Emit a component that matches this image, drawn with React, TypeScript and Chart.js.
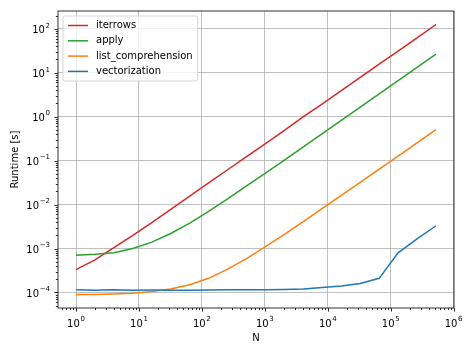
import React, { useEffect, useRef } from "react";
import { Chart, registerables } from "chart.js";

Chart.register(...registerables);

// ---- data ----
const N = [1, 2, 4, 8, 16, 32, 64, 128, 256, 512, 1024, 2048, 4096, 8192, 16384, 32768, 65536, 131072, 262144, 524288];
const iterrows = [3.3e-4, 5.5e-4, 1.05e-3, 2.0e-3, 3.9e-3, 7.8e-3, 1.55e-2, 3.1e-2, 6.2e-2, 0.124, 0.245, 0.49, 1.0, 1.95, 3.9, 7.8, 15.6, 31, 62, 125];
const apply = [7.0e-4, 7.4e-4, 8.0e-4, 1.0e-3, 1.4e-3, 2.2e-3, 3.8e-3, 7.0e-3, 1.35e-2, 2.65e-2, 5.2e-2, 0.103, 0.205, 0.41, 0.82, 1.64, 3.3, 6.6, 13.2, 26.5];
const listComprehension = [9.0e-5, 9.0e-5, 9.2e-5, 9.6e-5, 1.05e-4, 1.2e-4, 1.5e-4, 2.1e-4, 3.4e-4, 5.9e-4, 1.1e-3, 2.1e-3, 4.1e-3, 8.2e-3, 1.62e-2, 3.2e-2, 6.4e-2, 0.127, 0.254, 0.51];
const vectorization = [1.15e-4, 1.13e-4, 1.15e-4, 1.13e-4, 1.14e-4, 1.13e-4, 1.13e-4, 1.14e-4, 1.16e-4, 1.15e-4, 1.15e-4, 1.17e-4, 1.2e-4, 1.3e-4, 1.4e-4, 1.6e-4, 2.1e-4, 8.0e-4, 1.65e-3, 3.3e-3];

const seriesLabels = ["iterrows", "apply", "list_comprehension", "vectorization"];
const seriesColors = ["#d62728", "#2ca02c", "#ff7f0e", "#1f77b4"];
const xMajorTicks = [1, 10, 100, 1000, 10000, 100000, 1000000];
const yMajorTicks = [1e-4, 1e-3, 1e-2, 1e-1, 1, 10, 100];
const xTitle = "N";
const yTitle = "Runtime [s]";

const FONT = "DejaVu Sans";
const FS = 10;
const SUPFS = 7;

function logLimits(values: number[]): [number, number] {
  const lo = Math.log10(Math.min(...values));
  const hi = Math.log10(Math.max(...values));
  const pad = (hi - lo) * 0.05;
  return [Math.pow(10, lo - pad), Math.pow(10, hi + pad)];
}

function minorValues(min: number, max: number): number[] {
  const out: number[] = [];
  for (let e = Math.floor(Math.log10(min)); e <= Math.ceil(Math.log10(max)); e++) {
    for (let m = 2; m <= 9; m++) {
      const v = m * Math.pow(10, e);
      if (v >= min && v <= max) out.push(v);
    }
  }
  return out;
}

function drawPow(ctx: CanvasRenderingContext2D, v: number, x: number, y: number, align: "center" | "right") {
  const e = Math.round(Math.log10(v));
  const expStr = e < 0 ? "\u2212" + String(-e) : String(e);
  const baseFont = `${FS}px "${FONT}"`;
  const supFont = `${SUPFS}px "${FONT}"`;
  ctx.font = baseFont;
  const bw = ctx.measureText("10").width;
  ctx.font = supFont;
  const ew = ctx.measureText(expStr).width;
  const gap = 0.6;
  const total = bw + gap + ew;
  const x0 = align === "center" ? x - total / 2 : x - total;
  ctx.textAlign = "left";
  ctx.textBaseline = "alphabetic";
  ctx.fillStyle = "#000";
  ctx.font = baseFont;
  ctx.fillText("10", x0, y);
  ctx.font = supFont;
  ctx.fillText(expStr, x0 + bw + gap, y - 5.5);
}

const decorPlugin = {
  id: "decor",
  afterDraw(chart: any) {
    const ctx = chart.ctx as CanvasRenderingContext2D;
    const a = chart.chartArea;
    const xs = chart.scales.x;
    const ys = chart.scales.y;
    ctx.save();
    ctx.strokeStyle = "#000";
    ctx.lineWidth = 0.8;
    const xt = (v: number, len: number) => {
      const p = Math.round(xs.getPixelForValue(v)) + 0.5;
      if (p < a.left - 0.5 || p > a.right + 0.5) return;
      ctx.beginPath();
      ctx.moveTo(p, a.bottom);
      ctx.lineTo(p, a.bottom + len);
      ctx.stroke();
    };
    const yt = (v: number, len: number) => {
      const p = Math.round(ys.getPixelForValue(v)) + 0.5;
      if (p < a.top - 0.5 || p > a.bottom + 0.5) return;
      ctx.beginPath();
      ctx.moveTo(a.left, p);
      ctx.lineTo(a.left - len, p);
      ctx.stroke();
    };
    minorValues(xs.min, xs.max).forEach((v) => xt(v, 2.1));
    xMajorTicks.forEach((v) => xt(v, 3.6));
    minorValues(ys.min, ys.max).forEach((v) => yt(v, 2.1));
    yMajorTicks.forEach((v) => yt(v, 3.6));
    // frame (spines)
    ctx.strokeRect(a.left, a.top, a.right - a.left, a.bottom - a.top);

    // tick labels
    xMajorTicks.forEach((v) => drawPow(ctx, v, xs.getPixelForValue(v), a.bottom + 18.5, "center"));
    yMajorTicks.forEach((v) => drawPow(ctx, v, a.left - 8, ys.getPixelForValue(v) + 4.3, "right"));

    // legend
    ctx.font = `${FS}px "${FONT}"`;
    const ds = chart.data.datasets;
    let maxW = 0;
    ds.forEach((d: any) => { maxW = Math.max(maxW, ctx.measureText(d.label).width); });
    const bx = a.left + 5;
    const by = a.top + 5;
    const pad = 4;
    const handle = 20;
    const gap = 8;
    const rowH = 15.3;
    const bw = pad + 1 + handle + gap + maxW + pad + 1;
    const bh = 65;
    const r = 2;
    ctx.beginPath();
    ctx.moveTo(bx + r, by);
    ctx.lineTo(bx + bw - r, by);
    ctx.arcTo(bx + bw, by, bx + bw, by + r, r);
    ctx.lineTo(bx + bw, by + bh - r);
    ctx.arcTo(bx + bw, by + bh, bx + bw - r, by + bh, r);
    ctx.lineTo(bx + r, by + bh);
    ctx.arcTo(bx, by + bh, bx, by + bh - r, r);
    ctx.lineTo(bx, by + r);
    ctx.arcTo(bx, by, bx + r, by, r);
    ctx.closePath();
    ctx.fillStyle = "rgba(255,255,255,0.8)";
    ctx.fill();
    ctx.strokeStyle = "#cccccc";
    ctx.lineWidth = 0.8;
    ctx.stroke();
    ds.forEach((d: any, i: number) => {
      const cy = by + 9.5 + i * rowH;
      ctx.strokeStyle = d.borderColor;
      ctx.lineWidth = 1.5;
      ctx.beginPath();
      ctx.moveTo(bx + pad + 1, cy);
      ctx.lineTo(bx + pad + 1 + handle, cy);
      ctx.stroke();
      ctx.fillStyle = "#000";
      ctx.textBaseline = "middle";
      ctx.textAlign = "left";
      ctx.fillText(d.label, bx + pad + 1 + handle + gap, cy);
    });
    ctx.restore();
  },
};

export default function App() {
  const ref = useRef<HTMLCanvasElement | null>(null);
  useEffect(() => {
    if (!ref.current) return;
    const all = [...iterrows, ...apply, ...listComprehension, ...vectorization];
    const [xMin, xMax] = logLimits(N);
    const [yMin, yMax] = logLimits(all);
    const seriesValues = [iterrows, apply, listComprehension, vectorization];
    const datasets = seriesValues.map((vals, i) => ({
      label: seriesLabels[i],
      data: N.map((n, j) => ({ x: n, y: vals[j] })),
      borderColor: seriesColors[i],
      backgroundColor: seriesColors[i],
      borderWidth: 1.5,
      pointRadius: 0,
      tension: 0,
      fill: false,
      order: seriesValues.length - 1 - i,
    }));
    const titleFont = { family: FONT, size: FS };
    const chart = new Chart(ref.current, {
      type: "line",
      data: { datasets },
      options: {
        animation: false,
        responsive: false,
        devicePixelRatio: 1,
        layout: { padding: { top: 11, right: 20, left: 0, bottom: 0 }, autoPadding: false },
        plugins: { legend: { display: false }, tooltip: { enabled: false } },
        scales: {
          x: {
            type: "logarithmic",
            min: xMin,
            max: xMax,
            afterBuildTicks: (s: any) => { s.ticks = xMajorTicks.map((v) => ({ value: v, major: true })); },
            afterFit: (s: any) => { s.height = 47; },
            grid: { color: "#b0b0b0", lineWidth: 0.8, drawTicks: false },
            border: { display: false },
            ticks: { display: false },
            title: { display: true, text: xTitle, font: titleFont, color: "#000", padding: { top: 0, bottom: 11 } },
          },
          y: {
            type: "logarithmic",
            min: yMin,
            max: yMax,
            afterBuildTicks: (s: any) => { s.ticks = yMajorTicks.map((v) => ({ value: v, major: true })); },
            afterFit: (s: any) => { s.width = 58; },
            grid: { color: "#b0b0b0", lineWidth: 0.8, drawTicks: false },
            border: { display: false },
            ticks: { display: false },
            title: { display: true, text: yTitle, font: titleFont, color: "#000", padding: { top: 9, bottom: 0 } },
          },
        },
      } as any,
      plugins: [decorPlugin],
    });
    return () => chart.destroy();
  }, []);
  return (
    <div style={{ position: "absolute", left: 0, top: 0, width: 474, height: 355, background: "#fff" }}>
      <canvas ref={ref} width={474} height={355} style={{ display: "block", width: 474, height: 355 }} />
    </div>
  );
}
